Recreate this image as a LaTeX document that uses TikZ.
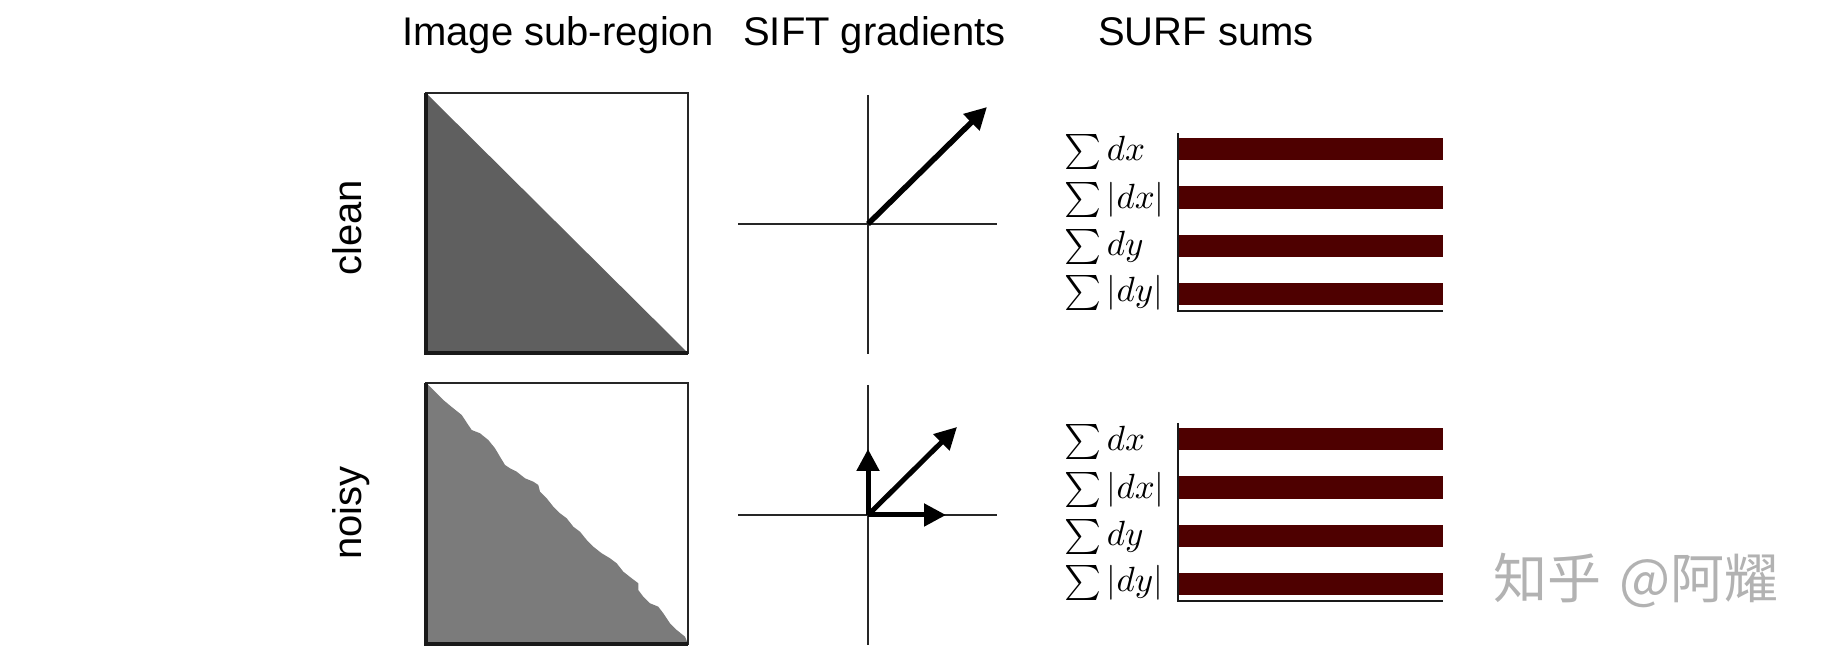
\documentclass[tikz,border=0pt]{standalone}
\usepackage{graphicx}
\usepackage{fontspec}
\setmainfont{Liberation Sans}
\newfontfamily\cjkfont{Noto Sans CJK SC}
\usetikzlibrary{arrows.meta}
\definecolor{barcol}{RGB}{78,0,0}
\definecolor{cleanfill}{RGB}{95,95,95}
\definecolor{noisyfill}{RGB}{123,123,123}
\newcommand{\mylab}[1]{\scalebox{3.5}{$#1$}}
\begin{document}
\begin{tikzpicture}[x=1pt,y=1pt,
  head/.style={font=\fontsize{40}{44}\selectfont, anchor=base west, inner sep=0pt},
  side/.style={font=\fontsize{40}{44}\selectfont, rotate=90, anchor=base, inner sep=0pt},
  axisline/.style={line width=2pt, draw=black!85},
  vec/.style={line width=5.5pt, -{Triangle[length=22pt,width=22pt]}},
  sq/.style={line width=2.5pt, draw=black!85},
  sqedge/.style={line width=3.5pt, draw=black!90},
  surfaxis/.style={line width=2.5pt, draw=black!90},
  lab/.style={anchor=west, inner sep=0pt},
  wm/.style={font=\cjkfont\fontsize{54}{58}\selectfont, text=black!30, anchor=west, inner sep=0pt}
]
\useasboundingbox (0,0) rectangle (1828,660);

% headers
\node[head] (h1) at (402,614) {Image sub-region};
\node[head] (h2) at (743,614) {SIFT gradients};
\node[head] (h3) at (1098,614) {SURF sums};

% row labels
\node[side] (rclean) at (361,432) {clean};
\node[side] (rnoisy) at (361,147) {noisy};

% ---- clean square
\fill[cleanfill] (426,567) -- (688,307) -- (426,307) -- cycle;
\draw[sq] (426,307) rectangle (688,567);
\draw[sqedge] (426,567) -- (426,307) -- (688,307);

% ---- noisy square
\fill[noisyfill] (426,277) -- (428.3,275) -- (433.3,270) -- (443.3,260) -- (453.3,251.7)
  -- (461.7,245) -- (468.3,235) -- (471.7,230) -- (480,226.7) -- (488.3,220)
  -- (495,211.7) -- (500,203.3) -- (505,195) -- (510,191.7) -- (516.7,188.3)
  -- (525,181.7) -- (533.3,178.3) -- (538.3,175) -- (540,168.3) -- (546.7,161.7)
  -- (553.3,153.3) -- (560,146.7) -- (566.7,141.7) -- (573.3,133.3) -- (580,128.3)
  -- (586.7,120) -- (593.3,113.3) -- (601.7,106.7) -- (610,101.7) -- (616.7,96.7)
  -- (623.3,88.3) -- (631.7,81.7) -- (638.3,76.7) -- (638.3,70) -- (643.3,63.3)
  -- (650,56.7) -- (658.3,53.3) -- (663.3,46.7) -- (670,36.7) -- (676.7,30)
  -- (685,23.3) -- (688,16) -- (426,16) -- cycle;
\draw[sq] (426,16) rectangle (688,277);
\draw[sqedge] (426,277) -- (426,16) -- (688,16);

% ---- SIFT clean
\coordinate (o1) at (868,436);
\coordinate (v1t) at (868,565);
\coordinate (v1b) at (868,306);
\coordinate (h1l) at (738,436);
\coordinate (h1r) at (997,436);
\coordinate (t1) at (987,553);
\draw[axisline] (v1t) -- (v1b);
\draw[axisline] (h1l) -- (h1r);
\draw[vec] (o1) -- (t1);

% ---- SIFT noisy
\coordinate (o2) at (868,145);
\coordinate (v2t) at (868,275);
\coordinate (v2b) at (868,15);
\coordinate (h2l) at (738,145);
\coordinate (h2r) at (997,145);
\coordinate (tu) at (868,211);
\coordinate (td) at (957,233);
\coordinate (tr) at (946,145);
\draw[axisline] (v2t) -- (v2b);
\draw[axisline] (h2l) -- (h2r);
\draw[vec,line width=5pt] (o2) -- (td);
\draw[vec,line width=5pt] (o2) -- (tu);
\draw[vec,line width=5pt] (o2) -- (tr);

% ---- SURF clean
\foreach \t in {522,473.7,425.4,377}{
  \fill[barcol] (1178,\t) rectangle (1443,\t-22.5);
}
\coordinate (s1top) at (1178,527);
\coordinate (s1o) at (1178,349);
\coordinate (s1r) at (1443,349);
\draw[surfaxis] (s1top) -- (s1o) -- (s1r);
\node[lab] (l11) at (1064,508) {\mylab{\sum dx}};
\node[lab] (l12) at (1064,460) {\mylab{\sum|dx|}};
\node[lab] (l13) at (1064,413) {\mylab{\sum dy}};
\node[lab] (l14) at (1064,367) {\mylab{\sum|dy|}};

% ---- SURF noisy
\foreach \t in {232,183.7,135.4,87}{
  \fill[barcol] (1178,\t) rectangle (1443,\t-22.5);
}
\coordinate (s2top) at (1178,237);
\coordinate (s2o) at (1178,59);
\coordinate (s2r) at (1443,59);
\draw[surfaxis] (s2top) -- (s2o) -- (s2r);
\node[lab] (l21) at (1064,218) {\mylab{\sum dx}};
\node[lab] (l22) at (1064,170) {\mylab{\sum|dx|}};
\node[lab] (l23) at (1064,123) {\mylab{\sum dy}};
\node[lab] (l24) at (1064,77) {\mylab{\sum|dy|}};

% watermark
\node[wm] (wmk) at (1493,80) {知乎\hspace{18pt}@阿耀};
\end{tikzpicture}
\end{document}
